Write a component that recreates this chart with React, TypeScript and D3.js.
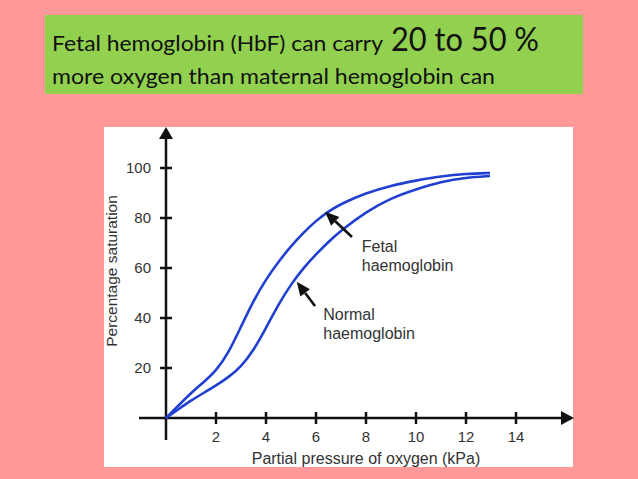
import React from "react";
import * as d3 from "d3";

const pressures = [0, 0.5, 1, 1.5, 2, 2.5, 3, 3.5, 4, 4.5, 5, 5.5, 6, 6.5, 7, 8, 9, 10, 11, 12, 12.96];
const fetalSat = [0, 5, 10, 14.3, 18.8, 26, 36.5, 47, 55.5, 62.5, 68.8, 74.2, 78.9, 82.7, 85.7, 90, 93, 95, 96.7, 97.7, 98];
const normalSat = [0, 3.5, 7, 10, 13, 16.3, 20.5, 27, 36, 45.5, 53.5, 60, 65.5, 70.5, 75, 82.5, 88, 91.5, 94.5, 96.2, 96.8];
const xTicks = [2, 4, 6, 8, 10, 12, 14];
const yTicks = [20, 40, 60, 80, 100];

const annotations = [
  { lines: ["Fetal", "haemoglobin"], tip: [6.36, 82.5], tail: [7.44, 72.4], label: [7.83, 66.5] },
  { lines: ["Normal", "haemoglobin"], tip: [5.23, 54.5], tail: [5.96, 44.8], label: [6.29, 39.2] },
];

const titleLine1 = "Fetal hemoglobin (HbF) can carry";
const titleBig = "20 to 50 %";
const titleLine2 = "more oxygen than maternal hemoglobin can";

export default function App() {
  const x = d3.scaleLinear().domain([0, 14]).range([166, 516]);
  const y = d3.scaleLinear().domain([0, 100]).range([418, 168]);
  const line = d3
    .line<number>()
    .x((_, i) => x(pressures[i]))
    .y((d) => y(d))
    .curve(d3.curveBasis);

  const axisColor = "#111";
  const textColor = "#333";
  const blue = "#2140d2";

  const arrowHead = (tip: number[], tail: number[], len: number, w: number) => {
    const tx = x(tip[0]), ty = y(tip[1]);
    const sx = x(tail[0]), sy = y(tail[1]);
    const dx = tx - sx, dy = ty - sy;
    const L = Math.hypot(dx, dy);
    const ux = dx / L, uy = dy / L;
    const bx = tx - ux * len, by = ty - uy * len;
    const px = -uy * w / 2, py = ux * w / 2;
    return { pts: `${tx},${ty} ${bx + px},${by + py} ${bx - px},${by - py}`, bx, by, sx, sy };
  };

  return (
    <svg width={638} height={479} style={{ position: "absolute", left: 0, top: 0 }}>
      <rect x={0} y={0} width={638} height={479} fill="#ff9999" />
      <rect x={45} y={15} width={538} height={79} fill="#92d050" />
      <text fontFamily="Lato, 'Open Sans', sans-serif" fill="#111">
        <tspan x={52} y={51} fontSize={21.5} textLength={331} lengthAdjust="spacingAndGlyphs">{titleLine1}</tspan>
        <tspan x={391} y={51} fontSize={33} textLength={148} lengthAdjust="spacingAndGlyphs">{titleBig}</tspan>
        <tspan x={52} y={84} fontSize={21.5} textLength={443} lengthAdjust="spacingAndGlyphs">{titleLine2}</tspan>
      </text>

      <rect x={104} y={127} width={469} height={340} fill="#ffffff" />

      {/* axes */}
      <line x1={x(0)} x2={x(0)} y1={138} y2={440} stroke={axisColor} strokeWidth={2.5} />
      <polygon points={`${x(0)},127 ${x(0) - 7},139 ${x(0) + 7},139`} fill={axisColor} />
      <line x1={139} x2={562} y1={y(0)} y2={y(0)} stroke={axisColor} strokeWidth={2.5} />
      <polygon points={`574,${y(0)} 561,${y(0) - 7} 561,${y(0) + 7}`} fill={axisColor} />

      {yTicks.map((t) => (
        <g key={"y" + t}>
          <line x1={x(0) - 6} x2={x(0) + 6} y1={y(t)} y2={y(t)} stroke={axisColor} strokeWidth={2.5} />
          <text x={151} y={y(t)} dy="0.35em" textAnchor="end" fontFamily="'Liberation Sans', Arial, sans-serif" fontSize={15} fill={textColor}>{t}</text>
        </g>
      ))}
      {xTicks.map((t) => (
        <g key={"x" + t}>
          <line x1={x(t)} x2={x(t)} y1={y(0) - 6} y2={y(0) + 6} stroke={axisColor} strokeWidth={2.5} />
          <text x={x(t)} y={442} textAnchor="middle" fontFamily="'Liberation Sans', Arial, sans-serif" fontSize={15} fill={textColor}>{t}</text>
        </g>
      ))}
      <text x={366} y={464} textAnchor="middle" fontFamily="'Liberation Sans', Arial, sans-serif" fontSize={16} fill={textColor}>Partial pressure of oxygen (kPa)</text>
      <text transform="translate(117,271) rotate(-90)" textAnchor="middle" fontFamily="'Liberation Sans', Arial, sans-serif" fontSize={15.5} fill={textColor}>Percentage saturation</text>

      {/* curves */}
      <path d={line(fetalSat) || ""} fill="none" stroke={blue} strokeWidth={2.6} />
      <path d={line(normalSat) || ""} fill="none" stroke={blue} strokeWidth={2.6} />

      {annotations.map((a, i) => {
        const h = arrowHead(a.tip, a.tail, 14, 12);
        return (
          <g key={"a" + i}>
            <line x1={h.sx} y1={h.sy} x2={h.bx} y2={h.by} stroke="#111" strokeWidth={2.6} />
            <polygon points={h.pts} fill="#111" />
            {a.lines.map((l, j) => (
              <text key={j} x={x(a.label[0])} y={y(a.label[1]) + j * 19} fontFamily="'Liberation Sans', Arial, sans-serif" fontSize={16} fill={textColor}>{l}</text>
            ))}
          </g>
        );
      })}
    </svg>
  );
}
